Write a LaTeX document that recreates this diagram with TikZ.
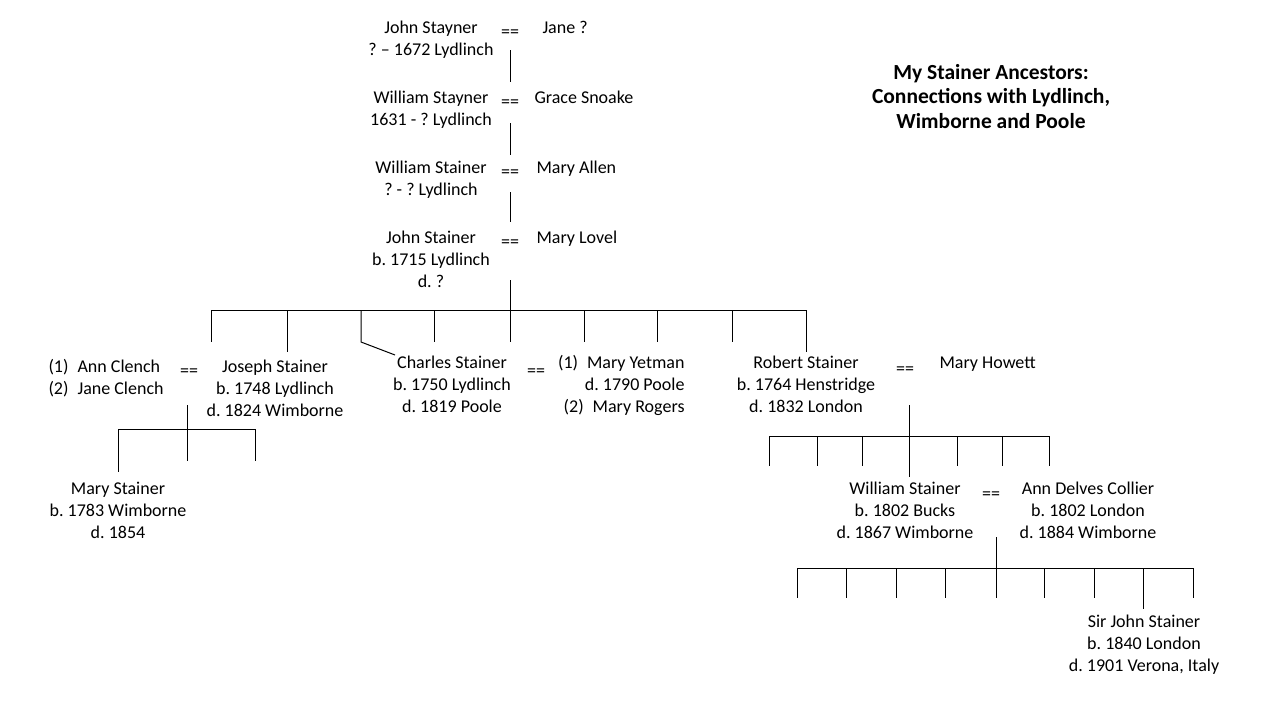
\documentclass[tikz,border=0pt]{standalone}
\usepackage{fontspec}
\setmainfont{Carlito}
\frenchspacing
\tikzset{
    person/.style={align=center, anchor=base, inner sep=0},
    spouse/.style={align=left, anchor=base west, inner sep=0},
    wed/.style={anchor=base, inner sep=0},
    thin/.style={line width=1pt},
    title/.style={align=center, anchor=base, inner sep=0, font=\fontsize{21.5}{24.5}\selectfont\bfseries}
    }

\begin{document}
\begin{tikzpicture}[x=1pt, y=-1pt, thin, font=\fontsize{18}{22}\selectfont]
\useasboundingbox (0,0) rectangle (1280,720);
                % The Title (nodes sit on the baseline of their last line)
                \node(title)[title] at (991,128) {My Stainer Ancestors:\\Connections with Lydlinch,\\Wimborne and Poole};
                % The Line
                \node(jstayner)[person] at (431,55) {John Stayner\\? -- 1672 Lydlinch};
                \node(wed1)[wed] at (510,37) {==};
                \node(jane)[spouse] at (542,33) {Jane ?};
                \node(wstayner)[person] at (431,125) {William Stayner\\1631 - ? Lydlinch};
                \node(wed2)[wed] at (510,107) {==};
                \node(grace)[spouse] at (534,103) {Grace Snoake};
                \node(wstainer)[person] at (431,195) {William Stainer\\? - ? Lydlinch};
                \node(wed3)[wed] at (510,177) {==};
                \node(allen)[spouse] at (536,173) {Mary Allen};
                \node(jstainer)[person] at (431,287) {John Stainer\\b. 1715 Lydlinch\\d. ?};
                \node(wed4)[wed] at (510,247) {==};
                \node(lovel)[spouse] at (536,243) {Mary Lovel};
                \coordinate(g1a) at (510,50);  \coordinate(g1b) at (510,82);
                \coordinate(g2a) at (510,123); \coordinate(g2b) at (510,155);
                \coordinate(g3a) at (510,192); \coordinate(g3b) at (510,222);
                \coordinate(g4a) at (510,280); \coordinate(bar) at (510,310);
                \draw (g1a) -- (g1b);
                \draw (g2a) -- (g2b);
                \draw (g3a) -- (g3b);
                \draw (g4a) -- (bar);
                % The Children
                \draw (211,310) coordinate(barw) -- (806,310) coordinate(bare);
                \foreach \x in {211,434,510,584,657,732}
                    \draw (\x,310) -- (\x,342);
                \node(clench)[spouse] at (48,394) {(1)\hspace{9pt}Ann Clench\\(2)\hspace{9pt}Jane Clench};
                \node(wed5)[wed] at (189,376) {==};
                \node(joseph)[person] at (275,416) {Joseph Stainer\\b. 1748 Lydlinch\\d. 1824 Wimborne};
                \node(charles)[person] at (452,412) {Charles Stainer\\b. 1750 Lydlinch\\d. 1819 Poole};
                \node(wed6)[wed] at (536,376) {==};
                \node(yetman)[align=right, anchor=base east, inner sep=0] at (685,412) {(1)\hspace{9pt}Mary Yetman\\d. 1790 Poole\\(2)\hspace{9pt}Mary Rogers};
                \node(robert)[person] at (806,412) {Robert Stainer\\b. 1764 Henstridge\\d. 1832 London};
                \node(wed7)[wed] at (905,374) {==};
                \node(howett)[spouse] at (939,368) {Mary Howett};
                \coordinate(josephtop) at (287,352);
                \coordinate(charlestop) at (395,355);
                \coordinate(roberttop) at (806,352);
                \draw (287,310) -- (josephtop);
                \draw (361,310) -- (361,342) -- (charlestop);
                \draw (bare) -- (roberttop);
                % Joseph's line
                \coordinate(j1) at (187,405);
                \coordinate(marytop) at (118,472);
                \draw (j1) -- (187,461);
                \draw (118,429) -- (255,429) -- (255,461);
                \draw (118,429) -- (marytop);
                \node(mary)[person] at (118,538) {Mary Stainer\\b. 1783 Wimborne\\d. 1854};
                % Robert's line
                \coordinate(r1) at (909,405);
                \coordinate(williamtop) at (909,477);
                \draw (r1) -- (williamtop);
                \draw (769,436) -- (1049,436);
                \foreach \x in {769,817,862,957,1002,1049}
                    \draw (\x,436) -- (\x,466);
                \node(william)[person] at (905,538) {William Stainer\\b. 1802 Bucks\\d. 1867 Wimborne};
                \node(wed8)[wed] at (991,499) {==};
                \node(collier)[person] at (1088,538) {Ann Delves Collier\\b. 1802 London\\d. 1884 Wimborne};
                % William's line
                \coordinate(w1) at (996,537);
                \coordinate(johntop) at (1143,609);
                \draw (w1) -- (996,598);
                \draw (797,568) -- (1193,568);
                \foreach \x in {797,846,896,945,1044,1094,1193}
                    \draw (\x,568) -- (\x,598);
                \draw (1143,568) -- (johntop);
                \node(sirjohn)[person] at (1144,671) {Sir John Stainer\\b. 1840 London\\d. 1901 Verona, Italy};
\end{tikzpicture}
\end{document}
